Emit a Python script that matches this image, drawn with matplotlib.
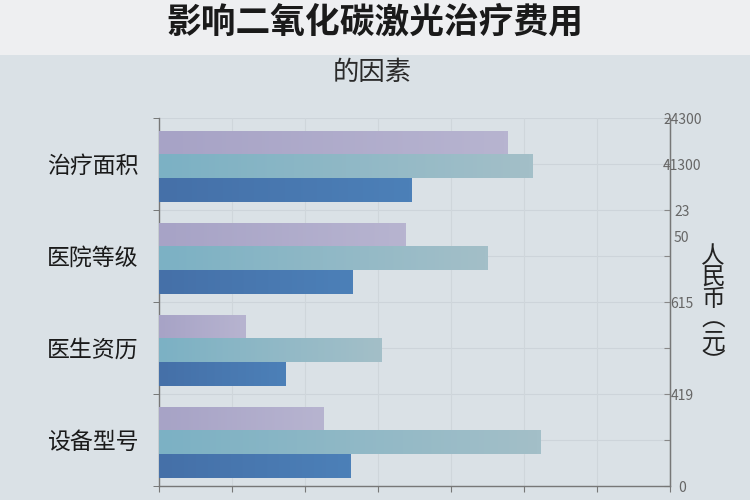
import matplotlib
matplotlib.use('Agg')
import matplotlib.pyplot as plt
import matplotlib.colors as mcolors
import numpy as np

plt.rcParams['font.family'] = ['Noto Sans CJK SC', 'DejaVu Sans']

# data (人民币 元)
categories = ['治疗面积', '医院等级', '医生资历', '设备型号']
series_a = [4780, 3380, 1180, 2260]   # purple
series_b = [5120, 4500, 3050, 5230]   # teal
series_c = [3460, 2650, 1730, 2630]   # blue
right_ticks = [0, 1, 2, 3, 4, 5, 6, 7, 8]
right_labels = ['0', '', '419', '', '615', '', '23', '41300', '24300']

grad_a = ['#a7a3c6', '#b7b4d0']
grad_b = ['#7cb1c4', '#a3bfc8']
grad_c = ['#4570a8', '#4c80b8']

fig = plt.figure(figsize=(7.5, 5), dpi=100)
fig.patch.set_facecolor('#dae1e6')
# light header strip
fig.patches.append(plt.Rectangle((0, 0.89), 1, 0.11, transform=fig.transFigure,
                                 facecolor='#eeeff1', edgecolor='none', zorder=0))

ax = fig.add_axes([0.212, 0.028, 0.681, 0.736])

y = np.arange(len(categories))
h = 0.255
off = 0.03


def grad_bar(yc, val, cols):
    cmap = mcolors.LinearSegmentedColormap.from_list('g', cols)
    g = np.linspace(0, 1, 64).reshape(1, -1)
    ax.imshow(g, cmap=cmap, aspect='auto', extent=(0, val, yc + h / 2, yc - h / 2),
              zorder=3, interpolation='bicubic')


for i in range(len(categories)):
    grad_bar(y[i] - h + off, series_a[i], grad_a)
    grad_bar(y[i] + off, series_b[i], grad_b)
    grad_bar(y[i] + h + off, series_c[i], grad_c)

ax.set_xlim(0, 7000)
ax.set_ylim(3.5, -0.5)
ax.set_xticks(np.arange(0, 7001, 1000))
ax.set_xticklabels([])
ax.set_yticks(y)
ax.set_yticklabels(categories, fontsize=16.5, color='#1a1a1a')
ax.set_yticks(np.arange(-0.5, 3.6, 1), minor=True)
ax.tick_params(axis='y', which='major', length=0, pad=15)
ax.tick_params(axis='y', which='minor', length=4, color='#666666')
ax.tick_params(axis='x', length=4, color='#777777', direction='out')
ax.grid(axis='x', color='#cfd6db', linewidth=0.8, zorder=0)
ax.spines['top'].set_visible(False)
for s in ['left', 'bottom', 'right']:
    ax.spines[s].set_color('#777777')
    ax.spines[s].set_linewidth(1.0)

ax2 = ax.twinx()
ax2.set_ylim(0, 8)
ax2.set_yticks(right_ticks)
ax2.set_yticklabels(right_labels, fontsize=10, color='#666666', ha='center')
ax2.tick_params(axis='y', length=4, direction='in', color='#888888', pad=9)
ax2.grid(axis='y', color='#cdd4da', linewidth=0.8, zorder=0)
ax2.set_zorder(0)
ax.set_zorder(1)
ax.patch.set_visible(False)
ax2.patch.set_facecolor('#dde3e8')
for s in ['top', 'left', 'bottom']:
    ax2.spines[s].set_visible(False)
ax2.spines['right'].set_color('#777777')
ax2.text(1.022, 5.4, '50', transform=ax2.get_yaxis_transform(), fontsize=10,
         color='#666666', ha='center', va='center')

fig.text(0.951, 0.38, '人\n民\n币\n︵\n元\n︶', fontsize=17, color='#222222',
         ha='center', va='center', linespacing=0.9)

fig.text(0.5, 0.955, '影响二氧化碳激光治疗费用', fontsize=25, color='#1a1a1a',
         fontweight='bold', ha='center', va='center')
fig.text(0.497, 0.855, '的因素', fontsize=19, color='#2a2a2a',
         fontweight='medium', ha='center', va='center')

fig.savefig('out.png', dpi=100, facecolor=fig.get_facecolor())
